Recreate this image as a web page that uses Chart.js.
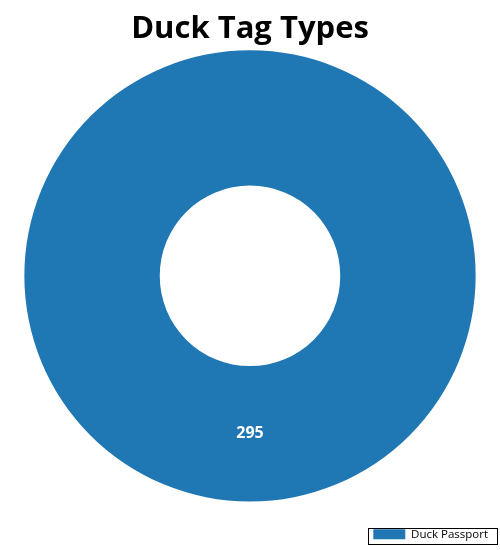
<!DOCTYPE html>
<html>
<head>
<meta charset="utf-8">
<script src="https://cdn.jsdelivr.net/npm/chart.js@4"></script>
<style>
  html, body { margin: 0; padding: 0; background: #fff; }
  #wrap { width: 500px; height: 550px; }
</style>
</head>
<body>
<div id="wrap"><canvas id="tagChart"></canvas></div>
<script>
const categories = ['Duck Passport']
const tagCounts = [295]
const sliceColors = ['#1f77b4']

// draws the count in the middle of each slice
const sliceLabels = {
  id: 'sliceLabels',
  afterDatasetsDraw(chart) {
    const ctx = chart.ctx
    const meta = chart.getDatasetMeta(0)
    ctx.save()
    ctx.fillStyle = '#fff'
    ctx.font = 'bold 16px "Open Sans", sans-serif'
    ctx.textAlign = 'center'
    ctx.textBaseline = 'middle'
    meta.data.forEach((arc, i) => {
      const pos = arc.tooltipPosition()
      ctx.fillText(tagCounts[i], pos.x, pos.y)
    })
    ctx.restore()
  }
}

// thin frame around the legend items
const legendFrame = {
  id: 'legendFrame',
  afterDraw(chart) {
    const boxes = chart.legend && chart.legend.legendHitBoxes
    if (!boxes || !boxes.length) return
    const ctx = chart.ctx
    let left = Infinity, top = Infinity, right = -Infinity, bottom = -Infinity
    boxes.forEach(b => {
      left = Math.min(left, b.left)
      top = Math.min(top, b.top)
      right = Math.max(right, b.left + b.width)
      bottom = Math.max(bottom, b.top + b.height)
    })
    const x0 = Math.round(left - 5), y0 = Math.round(top - 1)
    const x1 = Math.round(right + 9), y1 = Math.round(bottom + 4)
    ctx.save()
    ctx.strokeStyle = '#000'
    ctx.lineWidth = 1
    ctx.strokeRect(x0 + 0.5, y0 + 0.5, x1 - x0, y1 - y0)
    ctx.restore()
  }
}

const ctx = document.getElementById('tagChart').getContext('2d')
new Chart(ctx, {
  type: 'doughnut',
  data: {
    labels: categories,
    datasets: [{
      data: tagCounts,
      backgroundColor: sliceColors,
      borderWidth: 0
    }]
  },
  options: {
    responsive: true,
    maintainAspectRatio: false,
    animation: false,
    cutout: '40%',
    layout: { padding: { left: 4, right: 4, top: 0, bottom: 0 } },
    plugins: {
      title: {
        display: true,
        text: 'Duck Tag Types',
        color: '#000',
        font: { family: '"Open Sans", sans-serif', size: 31, weight: 'bold' },
        padding: { top: 11, bottom: 2 }
      },
      legend: {
        position: 'bottom',
        align: 'end',
        // empty title only reserves the gap between the ring and the legend
        title: {
          display: true,
          text: '',
          font: { size: 10, lineHeight: 1 },
          padding: { top: 9, bottom: 0 }
        },
        labels: {
          boxWidth: 32,
          boxHeight: 10,
          color: '#000',
          padding: 8,
          font: { family: '"Open Sans", sans-serif', size: 11.5 }
        }
      },
      tooltip: { enabled: false }
    }
  },
  plugins: [sliceLabels, legendFrame]
})
</script>
</body>
</html>
